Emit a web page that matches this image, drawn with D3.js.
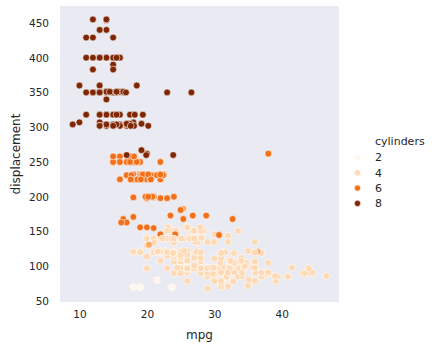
<!DOCTYPE html>
<html>
<head>
<meta charset="utf-8">
<script src="https://cdn.jsdelivr.net/npm/d3@7"></script>
<style>
  html, body { margin: 0; padding: 0; background: #ffffff; }
  svg { display: block; font-family: "DejaVu Sans", sans-serif; }
</style>
</head>
<body>
<svg id="chart" width="438" height="360"></svg>
<script>
// mpg dataset: mpg, cylinders, displacement (row order kept)
const mpg = [
18,15,18,16,17,15,14,14,14,15,15,14,15,14,24,22,18,21,27,26,25,24,25,26,21,10,10,11,9,
27,28,25,25,19,16,17,19,18,14,14,14,14,12,13,13,18,22,19,18,23,28,30,30,31,35,27,26,24,25,23,20,21,
13,14,15,14,17,11,13,12,13,19,15,13,13,14,18,22,21,26,22,28,23,28,27,
13,14,13,14,15,12,13,13,14,13,12,13,18,16,18,18,23,26,11,12,13,12,18,20,21,22,18,19,21,26,15,16,29,24,20,19,15,24,20,11,
20,21,19,15,31,26,32,25,16,16,18,16,13,14,14,14,29,26,26,31,32,28,24,26,24,26,31,
19,18,15,15,16,15,16,14,17,16,15,18,21,20,13,29,23,20,23,24,25,24,18,29,19,23,23,22,25,33,
28,25,25,26,27,17.5,16,15.5,14.5,22,22,24,22.5,29,24.5,29,33,20,18,18.5,17.5,29.5,32,28,26.5,20,13,19,19,16.5,16.5,13,13,13,31.5,30,36,25.5,33.5,
17.5,17,15.5,15,17.5,20.5,19,18.5,16,15.5,15.5,16,29,24.5,26,25.5,30.5,33.5,30,30.5,22,21.5,21.5,
43.1,36.1,32.8,39.4,36.1,19.9,19.4,20.2,19.2,20.5,20.2,25.1,20.5,19.4,20.6,20.8,18.6,18.1,19.2,17.7,18.1,17.5,30,27.5,27.2,30.9,21.1,23.2,23.8,23.9,20.3,17,21.6,16.2,31.5,29.5,
21.5,19.8,22.3,20.2,20.6,17,17.6,16.5,18.2,16.9,15.5,19.2,18.5,31.9,34.1,35.7,27.4,25.4,23,27.2,23.9,34.2,34.5,31.8,37.3,28.4,28.8,26.8,33.5,
41.5,38.1,32.1,37.2,28,26.4,24.3,19.1,34.3,29.8,31.3,37,32.2,46.6,27.9,40.8,44.3,43.4,36.4,30,44.6,40.9,33.8,29.8,32.7,23.7,35,23.6,32.4,
27.2,26.6,25.8,23.5,30,39.1,39,35.1,32.3,37,37.7,34.1,34.7,34.4,29.9,33,34.5,33.7,32.4,32.9,31.6,28.1,30.7,25.4,24.2,22.4,26.6,20.2,17.6,
28,27,34,31,29,27,24,23,36,37,31,38,36,36,36,34,38,32,38,25,38,26,22,32,36,27,27,44,32,28,31
];
const cylinders = [
8,8,8,8,8,8,8,8,8,8,8,8,8,8,4,6,6,6,4,4,4,4,4,4,6,8,8,8,8,
4,4,4,4,6,6,6,6,6,8,8,8,8,8,8,8,6,4,6,6,4,4,4,4,4,4,4,4,4,4,4,4,4,
8,8,8,8,8,8,8,8,8,3,8,8,8,8,4,4,4,4,4,4,4,4,4,
8,8,8,8,8,8,8,8,8,8,8,8,6,6,6,6,6,4,8,8,8,8,6,4,4,4,3,4,6,4,8,8,4,4,4,4,8,4,6,8,
6,6,6,6,4,4,4,4,6,6,6,8,8,8,8,8,4,4,4,4,4,4,4,4,4,4,4,
6,6,6,6,8,8,8,8,6,6,6,6,6,8,8,4,4,6,4,4,4,4,6,4,6,4,4,4,4,4,
4,4,4,4,4,8,8,8,8,6,6,6,6,4,4,4,4,6,6,6,6,4,4,4,4,4,8,4,6,6,8,8,8,8,4,4,4,4,4,
8,8,8,8,6,6,6,6,8,8,8,8,4,4,4,4,4,4,4,4,6,4,3,
4,4,4,4,4,8,8,8,6,6,6,4,6,6,6,6,6,6,8,6,8,8,4,4,4,4,4,4,4,4,5,6,4,6,4,4,
6,6,4,6,6,8,8,8,8,8,8,8,8,4,4,4,4,5,8,4,8,4,4,4,4,4,6,6,4,
4,4,4,4,4,4,4,6,4,4,4,4,4,4,4,4,4,4,5,4,4,4,4,4,6,3,4,4,4,
4,4,4,6,4,4,4,4,4,4,4,4,4,4,4,4,4,4,4,4,4,4,6,6,6,6,8,6,6,
4,4,4,4,4,4,4,4,4,4,4,4,4,4,4,4,4,4,4,6,6,4,6,4,4,4,4,4,4,4,4
];
const displacement = [
307,350,318,304,302,429,454,440,455,390,383,340,400,455,113,198,199,200,97,97,110,107,104,121,199,360,307,318,304,
97,140,113,98,232,225,250,250,232,350,400,351,318,383,400,400,258,140,250,250,122,116,79,88,71,72,97,91,113,97.5,97,140,122,
350,400,318,351,304,429,350,350,400,70,304,307,302,318,121,121,120,96,122,97,120,98,97,
350,304,350,302,318,429,400,351,318,440,455,360,225,250,232,250,198,97,400,400,360,350,232,97,140,108,70,122,155,98,350,400,68,116,114,121,318,121,156,350,
198,200,232,250,79,122,71,140,250,258,225,302,350,318,302,304,98,79,97,76,83,90,90,116,120,108,79,
225,250,250,250,400,350,318,351,231,250,258,225,231,262,302,97,140,232,140,134,90,119,171,90,232,115,120,121,121,91,
107,116,140,98,101,305,318,304,351,225,250,200,232,85,98,90,91,225,250,250,258,97,85,97,140,130,318,120,156,168,350,350,302,318,98,111,79,122,85,
305,260,318,302,250,231,225,250,400,350,400,351,97,151,97,140,98,98,97,97,146,121,80,
90,98,78,85,91,260,318,302,231,200,200,140,225,232,231,200,225,258,305,231,302,318,98,134,119,105,134,156,151,119,131,163,121,163,89,98,
231,200,140,232,225,305,302,351,318,350,351,267,360,89,86,98,121,183,350,141,260,105,105,85,91,151,173,173,151,
98,89,98,86,151,140,151,225,97,134,120,119,108,86,156,85,90,90,121,146,91,85,97,89,168,70,122,140,107,
135,151,156,173,135,79,86,81,97,85,89,91,105,98,98,105,100,107,108,119,120,141,145,168,146,231,350,200,225,
112,112,112,112,135,151,140,151,105,91,91,105,98,120,107,108,91,91,91,181,262,156,232,144,135,151,140,97,135,120,119
];
// legend (brief numeric legend)
const legendLevels = [2, 4, 6, 8];
const xTicks = [10, 20, 30, 40];
const yTicks = [50, 100, 150, 200, 250, 300, 350, 400, 450];

const panel = { left: 60, right: 339, top: 6, bottom: 302 };
const svg = d3.select("#chart");
const textColor = "#262626";

// matplotlib-style "Oranges" (linear through ColorBrewer stops)
const orangeStops = ["#fff5eb","#fee6ce","#fdd0a2","#fdae6b","#fd8d3c","#f16913","#d94801","#a63603","#7f2704"];
const oranges = d3.piecewise(d3.interpolateRgb, orangeStops);
const color = d3.scaleSequential(oranges).domain([d3.min(cylinders), d3.max(cylinders)]).clamp(true);

function padded(ext) { const r = ext[1] - ext[0]; return [ext[0] - 0.05 * r, ext[1] + 0.05 * r]; }
const x = d3.scaleLinear().domain(padded(d3.extent(mpg))).range([panel.left, panel.right]);
const y = d3.scaleLinear().domain(padded(d3.extent(displacement))).range([panel.bottom, panel.top]);

svg.append("rect")
  .attr("x", panel.left).attr("y", panel.top)
  .attr("width", panel.right - panel.left).attr("height", panel.bottom - panel.top)
  .attr("fill", "#eaeaf2");

const xAxis = svg.append("g").attr("transform", `translate(0,${panel.bottom})`)
  .call(d3.axisBottom(x).tickValues(xTicks).tickSize(0).tickPadding(9));
const yAxis = svg.append("g").attr("transform", `translate(${panel.left},0)`)
  .call(d3.axisLeft(y).tickValues(yTicks).tickSize(0).tickPadding(11));
[xAxis, yAxis].forEach(g => {
  g.select(".domain").remove();
  g.selectAll("text").attr("fill", textColor).style("font-size", "10.5px").style("font-family", "DejaVu Sans");
});

const rows = mpg.map((m, i) => ({ mpg: m, cyl: cylinders[i], disp: displacement[i] }));
svg.append("g").selectAll("circle").data(rows).join("circle")
  .attr("cx", d => x(d.mpg)).attr("cy", d => y(d.disp)).attr("r", 3.4)
  .attr("fill", d => color(d.cyl)).attr("stroke", "#ffffff").attr("stroke-width", 0.6);

svg.append("text").attr("x", (panel.left + panel.right) / 2).attr("y", 339)
  .attr("text-anchor", "middle").attr("fill", textColor).style("font-size", "12px").text("mpg");
svg.append("text").attr("transform", `translate(20,${(panel.top + panel.bottom) / 2}) rotate(-90)`)
  .attr("text-anchor", "middle").attr("fill", textColor).style("font-size", "12px").text("displacement");

const lg = svg.append("g");
lg.append("text").attr("x", 375).attr("y", 145).attr("fill", textColor).style("font-size", "11px").text("cylinders");
const items = lg.selectAll("g.item").data(legendLevels).join("g").attr("class", "item")
  .attr("transform", (d, i) => `translate(0,${157.5 + i * 15.3})`);
items.append("circle").attr("cx", 357.5).attr("cy", 0).attr("r", 3.1)
  .attr("fill", d => color(d)).attr("stroke", "#ffffff").attr("stroke-width", 0.6);
items.append("text").attr("x", 375).attr("y", 0).attr("dy", "0.35em")
  .attr("fill", textColor).style("font-size", "11px").text(d => d);
</script>
</body>
</html>
